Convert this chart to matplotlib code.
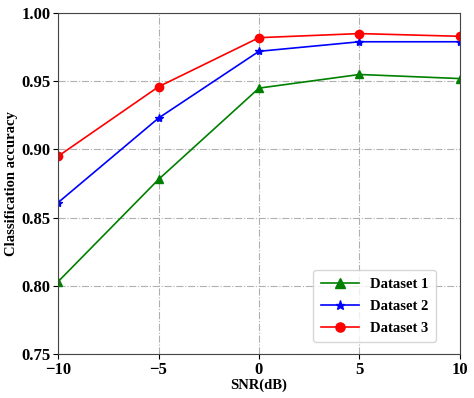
import matplotlib
matplotlib.use("Agg")
import matplotlib.pyplot as plt

snr = [-10, -5, 0, 5, 10]
dataset1 = [0.803, 0.878, 0.945, 0.955, 0.952]
dataset2 = [0.861, 0.923, 0.972, 0.979, 0.979]
dataset3 = [0.895, 0.946, 0.982, 0.985, 0.983]
labels = ["Dataset 1", "Dataset 2", "Dataset 3"]
xticks = [-10, -5, 0, 5, 10]
yticks = [0.75, 0.80, 0.85, 0.90, 0.95, 1.00]

plt.rcParams['font.family'] = ['Liberation Serif', 'DejaVu Serif']
plt.rcParams['font.weight'] = 'bold'

fig = plt.figure(figsize=(4.74, 3.98), dpi=100)
ax = fig.add_axes([0.1224, 0.1106, 0.848, 0.8564])

ax.plot(snr, dataset1, color='green', marker='^', markersize=6, linewidth=1.2, label=labels[0])
ax.plot(snr, dataset2, color='blue', marker='*', markersize=6, linewidth=1.2, label=labels[1])
ax.plot(snr, dataset3, color='red', marker='o', markersize=6, linewidth=1.2, label=labels[2])

ax.set_xlim(-10, 10)
ax.set_ylim(0.75, 1.00)
ax.set_xticks(xticks)
ax.set_yticks(yticks)
ax.set_xticklabels([("\u2212" + str(abs(t))) if t < 0 else str(t) for t in xticks], fontsize=12, fontweight='bold')
ax.set_yticklabels([f"{t:.2f}" for t in yticks], fontsize=12, fontweight='bold')
ax.grid(True, linestyle='-.', color='#b0b0b0', linewidth=0.8)
ax.set_xlabel("SNR(dB)", fontsize=10.5, fontweight='bold', labelpad=1)
ax.set_ylabel("Classification accuracy", fontsize=10.5, fontweight='bold', labelpad=2)
for s in ax.spines.values():
    s.set_color('#444444')
ax.tick_params(length=3.5, width=0.8, pad=2)

leg = ax.legend(loc='lower right', prop={'size': 10.5, 'weight': 'bold'}, handlelength=2.6,
                borderpad=0.5, labelspacing=0.6, handletextpad=0.8, markerscale=1.1,
                bbox_to_anchor=(0.94, 0.035), borderaxespad=0)
fig.savefig("out.png", dpi=100)
